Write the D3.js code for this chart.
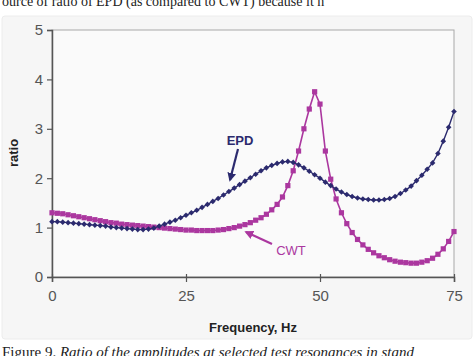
<!DOCTYPE html>
<html><head><meta charset="utf-8">
<script src="https://cdn.jsdelivr.net/npm/d3@7"></script>
<style>
html,body{margin:0;padding:0;background:#fbfbfb;}
svg{display:block;}
</style></head>
<body>
<svg id="c" width="474" height="356"></svg>
<script>
const frequency = d3.range(0, 76);
const epd = [1.12,1.12,1.11,1.10,1.09,1.08,1.07,1.06,1.05,1.04,1.03,1.01,1.00,0.99,0.98,0.97,0.96,0.96,0.97,0.99,1.03,1.07,1.11,1.15,1.20,1.25,1.30,1.35,1.41,1.47,1.53,1.59,1.66,1.73,1.80,1.87,1.94,2.01,2.08,2.15,2.21,2.26,2.30,2.33,2.34,2.32,2.27,2.21,2.14,2.07,2.00,1.92,1.85,1.78,1.72,1.67,1.63,1.60,1.58,1.57,1.56,1.56,1.57,1.59,1.63,1.69,1.76,1.84,1.95,2.06,2.18,2.31,2.50,2.75,3.03,3.35];
const cwt = [1.30,1.29,1.28,1.26,1.24,1.22,1.20,1.18,1.16,1.14,1.12,1.10,1.09,1.07,1.06,1.05,1.04,1.03,1.02,1.01,1.00,0.99,0.98,0.97,0.96,0.95,0.95,0.94,0.94,0.94,0.94,0.95,0.96,0.98,1.00,1.03,1.06,1.10,1.15,1.20,1.27,1.36,1.47,1.62,1.85,2.15,2.55,3.00,3.40,3.75,3.50,2.55,1.98,1.58,1.30,1.08,0.90,0.76,0.65,0.56,0.49,0.43,0.39,0.35,0.32,0.30,0.29,0.28,0.28,0.30,0.33,0.38,0.46,0.57,0.72,0.92];
const xTicks = [0,25,50,75];
const yTicks = [0,1,2,3,4,5];

const svg = d3.select("#c");
svg.append("rect").attr("x",0).attr("y",0).attr("width",474).attr("height",356).attr("fill","#ffffff");
svg.append("rect").attr("x",2).attr("y",16).attr("width",470).attr("height",323).attr("rx",3)
  .attr("fill","#f6f6f6").attr("stroke","#ececec");
// scanned surrounding text (cut off as in the scan)
svg.append("text").attr("x",2).attr("y",6).attr("font-family","Liberation Serif, serif").attr("font-size",14)
  .attr("fill","#222").text("ource of ratio of EPD  (as compared to CWT) because it h");
svg.append("text").attr("x",2).attr("y",357).attr("font-family","Liberation Serif, serif").attr("font-size",15)
  .attr("fill","#222").html('Figure 9. <tspan font-style="italic">Ratio of the amplitudes at selected test resonances in stand</tspan>');

const x = d3.scaleLinear().domain([0,75]).range([52,454]);
const y = d3.scaleLinear().domain([0,5]).range([277,30]);

svg.append("rect").attr("x",52).attr("y",30).attr("width",402).attr("height",247)
  .attr("fill","#fafafa").attr("stroke","#a8a8a8").attr("stroke-width",1);

const yAxis = d3.axisLeft(y).tickValues(yTicks).tickSize(5).tickFormat(d3.format("d"));
const gy = svg.append("g").attr("transform","translate(52,0)").call(yAxis);
gy.select(".domain").attr("stroke","#555").attr("stroke-width",1.5);
gy.selectAll(".tick line").attr("stroke","#555").attr("stroke-width",1.2);
gy.selectAll(".tick text").attr("font-family","Arial, Liberation Sans, sans-serif").attr("font-size",15)
  .attr("fill","#555").attr("x",-9);

const xAxis = d3.axisBottom(x).tickValues(xTicks).tickSize(5).tickFormat(d3.format("d"));
const gx = svg.append("g").attr("transform","translate(0,277)").call(xAxis);
gx.select(".domain").attr("stroke","#555").attr("stroke-width",1.5);
gx.selectAll(".tick line").attr("stroke","#555").attr("stroke-width",1.2).attr("y1",-3);
gx.selectAll(".tick text").attr("font-family","Arial, Liberation Sans, sans-serif").attr("font-size",15)
  .attr("fill","#555").attr("y",13);

svg.append("text").attr("transform","translate(18,153) rotate(-90)").attr("text-anchor","middle")
  .attr("font-family","Arial, Liberation Sans, sans-serif").attr("font-size",13).attr("font-weight","bold")
  .attr("fill","#222").text("ratio");
svg.append("text").attr("x",253).attr("y",332).attr("text-anchor","middle")
  .attr("font-family","Arial, Liberation Sans, sans-serif").attr("font-size",13).attr("font-weight","bold")
  .attr("fill","#222").text("Frequency, Hz");

const cEPD = "#2b2a6e", cCWT = "#ab379f";
const line = d3.line().x((d,i)=>x(frequency[i])).y(d=>y(d));

svg.append("path").datum(cwt).attr("d",line).attr("fill","none").attr("stroke",cCWT).attr("stroke-width",1.6);
svg.append("g").selectAll("rect").data(cwt).join("rect")
  .attr("x",(d,i)=>x(frequency[i])-2.6).attr("y",d=>y(d)-2.6).attr("width",5.2).attr("height",5.2)
  .attr("fill",cCWT);

svg.append("path").datum(epd).attr("d",line).attr("fill","none").attr("stroke",cEPD).attr("stroke-width",1.4);
svg.append("g").selectAll("path").data(epd).join("path")
  .attr("d",d3.symbol(d3.symbolDiamond2, 20))
  .attr("transform",(d,i)=>`translate(${x(frequency[i])},${y(d)})`)
  .attr("fill",cEPD);

const defs = svg.append("defs");
[["aE",cEPD],["aC",cCWT]].forEach(([id,c])=>{
  defs.append("marker").attr("id",id).attr("viewBox","0 0 10 10").attr("refX",8).attr("refY",5)
    .attr("markerWidth",4).attr("markerHeight",4).attr("orient","auto")
    .append("path").attr("d","M0,0L10,5L0,10z").attr("fill",c);
});
svg.append("text").attr("x",240).attr("y",145).attr("text-anchor","middle")
  .attr("font-family","Arial, Liberation Sans, sans-serif").attr("font-size",13).attr("font-weight","bold")
  .attr("fill",cEPD).text("EPD");
svg.append("line").attr("x1",238).attr("y1",149).attr("x2",230).attr("y2",180)
  .attr("stroke",cEPD).attr("stroke-width",2.2).attr("marker-end","url(#aE)");
svg.append("text").attr("x",291).attr("y",255).attr("text-anchor","middle")
  .attr("font-family","Arial, Liberation Sans, sans-serif").attr("font-size",13)
  .attr("fill",cCWT).text("CWT");
svg.append("line").attr("x1",272).attr("y1",244).attr("x2",246).attr("y2",232)
  .attr("stroke",cCWT).attr("stroke-width",2.2).attr("marker-end","url(#aC)");
</script>
</body></html>
